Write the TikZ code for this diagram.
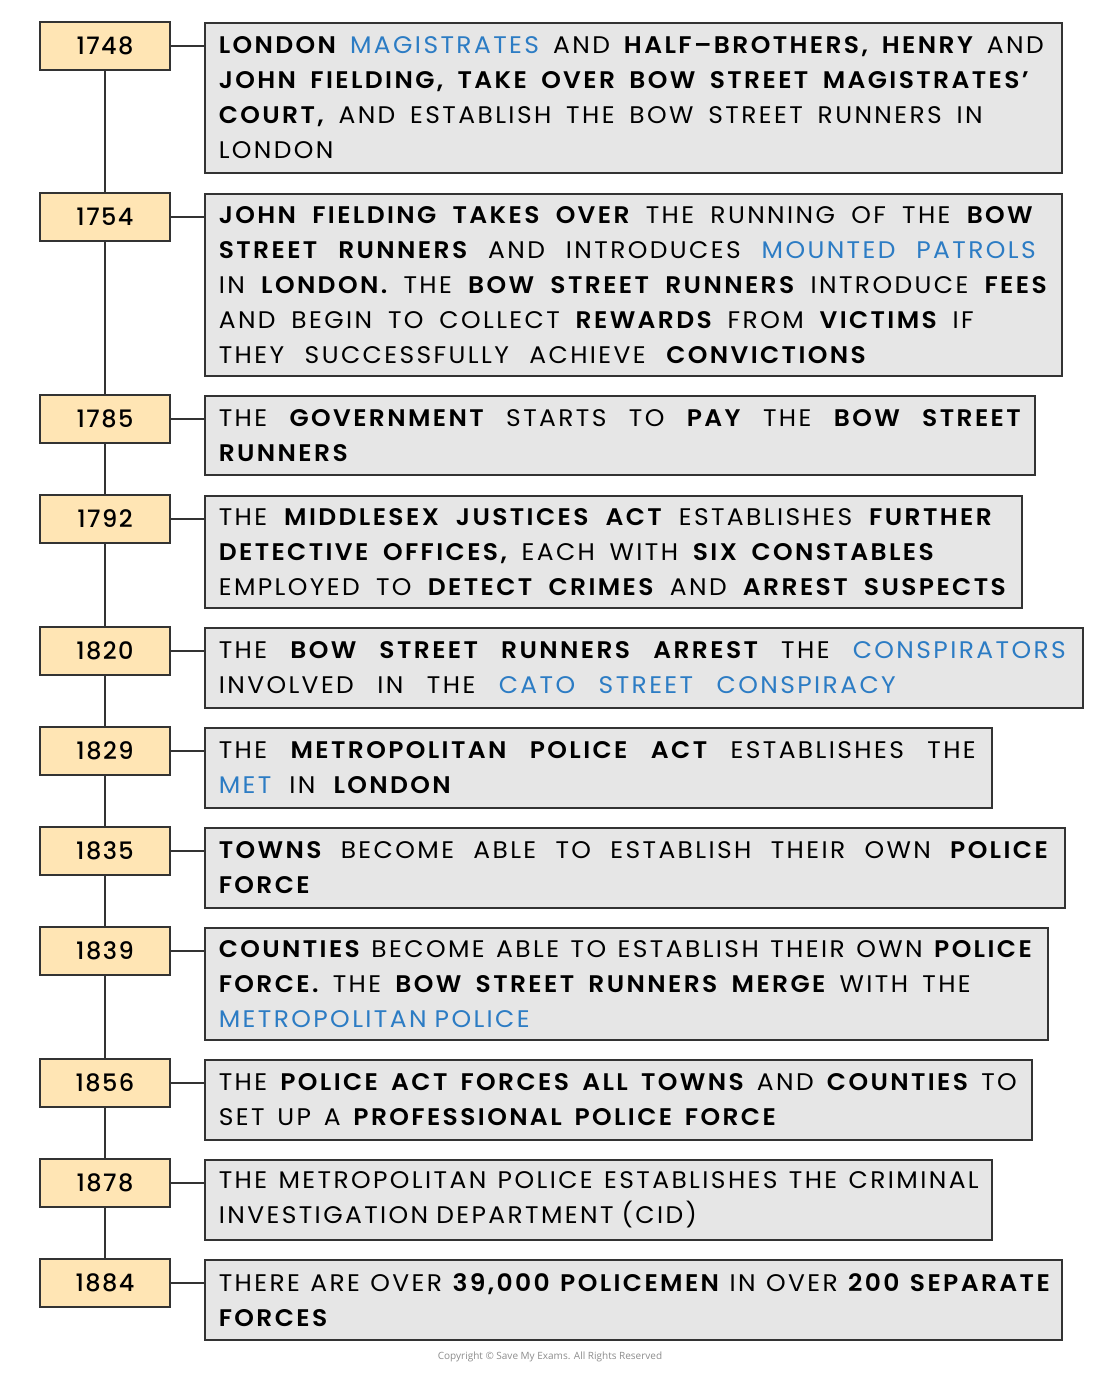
\documentclass[tikz,border=0pt]{standalone}
\usepackage{fontspec}
\setmainfont{Poppins}[LetterSpace=10,FakeStretch=1.04,BoldFont={Poppins SemiBold}]
\newfontfamily\yearfont{Poppins Medium}[LetterSpace=6]
\newfontfamily\notefont{Open Sans}
\usetikzlibrary{positioning}

\definecolor{yearfill}{HTML}{FFE5B4}
\definecolor{boxfill}{HTML}{E6E6E6}
\definecolor{edge}{HTML}{333333}
\definecolor{hiblue}{HTML}{2C7CC4}
\newcommand{\bd}[1]{{\bfseries #1}}
\newcommand{\hi}[1]{\textcolor{hiblue}{#1}}
\newcommand{\tline}[2]{\leavevmode\hbox to #1pt{\spaceskip=\fontdimen2\font plus 1fil minus 4pt\relax
  \xspaceskip=\spaceskip #2}}

\begin{document}
\begin{tikzpicture}[x=1pt,y=-1pt,
  link/.style={draw=edge, line width=1.6pt},
  yearbox/.style={draw=edge, line width=1.6pt, fill=yearfill,
    minimum width=130pt, minimum height=48pt, inner sep=0pt,
    font=\yearfont\fontsize{24}{28}\selectfont},
  eventbox/.style={draw=edge, line width=1.6pt, fill=boxfill, anchor=north west,
    inner xsep=14pt, inner ysep=0pt, align=left,
    font=\fontsize{24}{35}\selectfont}]
  \useasboundingbox (0,0) rectangle (1100,1373);

  % years
  \node[yearbox] (y1748) at (105,46) {1748};
  \node[yearbox] (y1754) at (105,217) {1754};
  \node[yearbox] (y1785) at (105,419) {1785};
  \node[yearbox] (y1792) at (105,519) {1792};
  \node[yearbox] (y1820) at (105,651) {1820};
  \node[yearbox] (y1829) at (105,751) {1829};
  \node[yearbox] (y1835) at (105,851) {1835};
  \node[yearbox] (y1839) at (105,951) {1839};
  \node[yearbox] (y1856) at (105,1083) {1856};
  \node[yearbox] (y1878) at (105,1183) {1878};
  \node[yearbox] (y1884) at (105,1283) {1884};

  % events
  \node[eventbox, text width=829pt, minimum height=150pt] (e1748) at (204,22)
    {\tline{825}{\bd{LONDON} \hi{MAGISTRATES} AND \bd{HALF--BROTHERS, HENRY} AND}\\
     \tline{810}{\bd{JOHN FIELDING, TAKE OVER BOW STREET MAGISTRATES’}}\\
     \tline{764}{\bd{COURT,} AND ESTABLISH THE BOW STREET RUNNERS IN}\\
     LONDON};
  \node[eventbox, text width=829pt, minimum height=182pt] (e1754) at (204,193)
    {\tline{814}{\bd{JOHN FIELDING TAKES OVER} THE RUNNING OF THE \bd{BOW}}\\
     \tline{817}{\bd{STREET RUNNERS} AND INTRODUCES \hi{MOUNTED PATROLS}}\\
     \tline{828}{IN \bd{LONDON.} THE \bd{BOW STREET RUNNERS} INTRODUCE \bd{FEES}}\\
     \tline{755}{AND BEGIN TO COLLECT \bd{REWARDS} FROM \bd{VICTIMS} IF}\\
     \tline{647}{THEY SUCCESSFULLY ACHIEVE \bd{CONVICTIONS}}};
  \node[eventbox, text width=802pt, minimum height=79pt] (e1785) at (204,395)
    {\tline{802}{THE \bd{GOVERNMENT} STARTS TO \bd{PAY} THE \bd{BOW STREET}}\\
     \bd{RUNNERS}};
  \node[eventbox, text width=789pt, minimum height=112pt] (e1792) at (204,495)
    {\tline{773}{THE \bd{MIDDLESEX JUSTICES ACT} ESTABLISHES \bd{FURTHER}}\\
     \tline{715}{\bd{DETECTIVE OFFICES,} EACH WITH \bd{SIX CONSTABLES}}\\
     \tline{787}{EMPLOYED TO \bd{DETECT CRIMES} AND \bd{ARREST SUSPECTS}}};
  \node[eventbox, text width=850pt, minimum height=80pt] (e1820) at (204,627)
    {\tline{847}{THE \bd{BOW STREET RUNNERS ARREST} THE \hi{CONSPIRATORS}}\\
     \tline{677}{INVOLVED IN THE \hi{CATO STREET CONSPIRACY}}};
  \node[eventbox, text width=759pt, minimum height=80pt] (e1829) at (204,727)
    {\tline{757}{THE \bd{METROPOLITAN POLICE ACT} ESTABLISHES THE}\\
     \tline{232}{\hi{MET} IN \bd{LONDON}}};
  \node[eventbox, text width=832pt, minimum height=80pt] (e1835) at (204,827)
    {\tline{829}{\bd{TOWNS} BECOME ABLE TO ESTABLISH THEIR OWN \bd{POLICE}}\\
     \bd{FORCE}};
  \node[eventbox, text width=815pt, minimum height=112pt] (e1839) at (204,927)
    {\tline{813}{\bd{COUNTIES} BECOME ABLE TO ESTABLISH THEIR OWN \bd{POLICE}}\\
     \tline{752}{\bd{FORCE.} THE \bd{BOW STREET RUNNERS MERGE} WITH THE}\\
     \hi{METROPOLITAN POLICE}};
  \node[eventbox, text width=799pt, minimum height=80pt] (e1856) at (204,1059)
    {\tline{798}{THE \bd{POLICE ACT FORCES ALL TOWNS} AND \bd{COUNTIES} TO}\\
     \tline{557}{SET UP A \bd{PROFESSIONAL POLICE FORCE}}};
  \node[eventbox, text width=759pt, minimum height=80pt] (e1878) at (204,1159)
    {\tline{760}{THE METROPOLITAN POLICE ESTABLISHES THE CRIMINAL}\\
     INVESTIGATION DEPARTMENT (CID)};
  \node[eventbox, text width=829pt, minimum height=80pt] (e1884) at (204,1259)
    {\tline{831}{THERE ARE OVER \bd{39,000 POLICEMEN} IN OVER \bd{200 SEPARATE}}\\
     \bd{FORCES}};

  % timeline
  \foreach \a/\b in {1748/1754,1754/1785,1785/1792,1792/1820,1820/1829,
                     1829/1835,1835/1839,1839/1856,1856/1878,1878/1884}
    \draw[link] (y\a) -- (y\b);
  \foreach \a in {1748,1754,1785,1792,1820,1829,1835,1839,1856,1878,1884}
    \draw[link] (y\a.east) -- (y\a.east -| e\a.west);

  \node[font=\notefont\fontsize{10}{12}\selectfont, text=black!45] (note) at (550,1357)
    {Copyright © Save My Exams. All Rights Reserved};
\end{tikzpicture}
\end{document}
